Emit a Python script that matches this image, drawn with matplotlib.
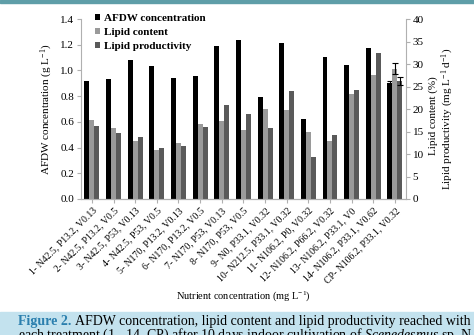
import matplotlib
matplotlib.use('Agg')
import matplotlib.pyplot as plt
import numpy as np
from matplotlib.patches import Rectangle

plt.rcParams['font.family'] = 'Liberation Serif'
plt.rcParams['mathtext.fontset'] = 'custom'
plt.rcParams['mathtext.rm'] = 'Liberation Serif'
plt.rcParams['mathtext.it'] = 'Liberation Serif:italic'

labels = ['1- N42.5, P13.2, V0.13', '2- N42.5, P13.2, V0.5', '3- N42.5, P53, V0.13',
          '4- N42.5, P53, V0.5', '5- N170, P13.2, V0.13', '6- N170, P13.2, V0.5',
          '7- N170, P53, V0.13', '8- N170, P53, V0.5', '9- N0, P33.1, V0.32',
          '10- N212.5, P33.1, V0.32', '11- N106.2, P0, V0.32', '12- N106.2, P66.2, V0.32',
          '13- N106.2, P33.1, V0', '14- N106.2, P33.1, V0.62', 'CP- N106.2, P33.1, V0.32']
afdw = [0.92, 0.93, 1.078, 1.038, 0.94, 0.96, 1.19, 1.236, 0.795, 1.215,
        0.62, 1.106, 1.043, 1.173, 0.90]
lipid_content = [17.6, 15.7, 12.8, 10.8, 12.4, 16.7, 17.3, 15.4, 19.9, 19.7,
                 14.8, 12.8, 23.3, 27.6, 29.0]
lipid_prod = [16.2, 14.6, 13.8, 11.3, 11.7, 16.0, 20.9, 19.0, 15.7, 24.0,
              9.3, 14.2, 24.2, 32.4, 26.2]
afdw_err = [0] * 14 + [0.015]
content_err = [0] * 14 + [1.3]
prod_err = [0] * 14 + [0.9]

fig = plt.figure(figsize=(4.74, 3.35), dpi=100)
ax = fig.add_axes([0.171, 0.406, 0.685, 0.537])
ax2 = ax.twinx()

x = np.arange(len(labels))
w = 0.23
ekw = dict(elinewidth=0.8, capthick=0.8)
ax.bar(x - w, afdw, w, color='black', yerr=[e if e else np.nan for e in afdw_err],
       capsize=2, error_kw=ekw, ecolor='black', label='AFDW concentration')
ax2.bar(x, lipid_content, w, color='#9a9a9a', yerr=[e if e else np.nan for e in content_err],
        capsize=2, error_kw=ekw, ecolor='black', label='Lipid content')
ax2.bar(x + w, lipid_prod, w, color='#5a5a5a', yerr=[e if e else np.nan for e in prod_err],
        capsize=2, error_kw=ekw, ecolor='black', label='Lipid productivity')

ax.set_xlim(-0.5, len(labels) - 0.5)
ax.set_ylim(0, 1.4)
ax.set_yticks(np.arange(0, 1.41, 0.2))
ax.set_yticklabels(['%.1f' % v for v in np.arange(0, 1.41, 0.2)], fontsize=8)
ax2.set_ylim(0, 40)
ax2.set_yticks(range(0, 41, 5))
ax2.tick_params(labelsize=8)

ax.set_xticks(x)
ax.set_xticklabels(labels, rotation=45, ha='right', rotation_mode='anchor', fontsize=7)

for a in (ax, ax2):
    a.spines['top'].set_visible(False)
    for s in ('left', 'right', 'bottom'):
        a.spines[s].set_color('#b0b0b0')
    a.tick_params(color='#b0b0b0', length=3, pad=2)
ax.spines['right'].set_visible(False)
ax2.spines['left'].set_visible(False)

ax.set_ylabel('AFDW concentration (g L$^{-1}$)', fontsize=8, labelpad=4)
ax.set_xlabel('Nutrient concentration (mg L$^{-1}$)', fontsize=7.5, labelpad=3)
fig.text(0.913, 0.655, 'Lipid content (%)', rotation=90, ha='center', va='center', fontsize=8)
fig.text(0.945, 0.645, 'Lipid productivity (mg L$^{-1}$ d$^{-1}$)', rotation=90,
         ha='center', va='center', fontsize=8)

h1, l1 = ax.get_legend_handles_labels()
h2, l2 = ax2.get_legend_handles_labels()
ax.legend(h1 + h2, l1 + l2, loc='upper left', bbox_to_anchor=(0.02, 1.07), frameon=False,
          handlelength=0.45, handleheight=0.45, handletextpad=0.3,
          labelspacing=0.45, borderpad=0.2, prop={'weight': 'bold', 'size': 8})

# page decoration: top rule and caption strip
fig.patches.append(Rectangle((0, 0.991), 1, 0.009, transform=fig.transFigure,
                             color='#5f9ea8', zorder=0))
fig.patches.append(Rectangle((0, 0), 1, 0.07, transform=fig.transFigure,
                             color='#c3e2ee', zorder=0))
fig.text(0.038, 0.041, 'Figure 2.', color='#2b7fae', fontsize=10, fontweight='bold', va='center')
fig.text(0.158, 0.041, 'AFDW concentration, lipid content and lipid productivity reached with',
         fontsize=10, va='center')
fig.text(0.038, 0.0, 'each treatment (1 - 14, CP) after 10 days indoor cultivation of '
         '$\\mathit{Scenedesmus}$ sp. N',
         fontsize=10, va='center')

fig.savefig('out.png', dpi=100)
